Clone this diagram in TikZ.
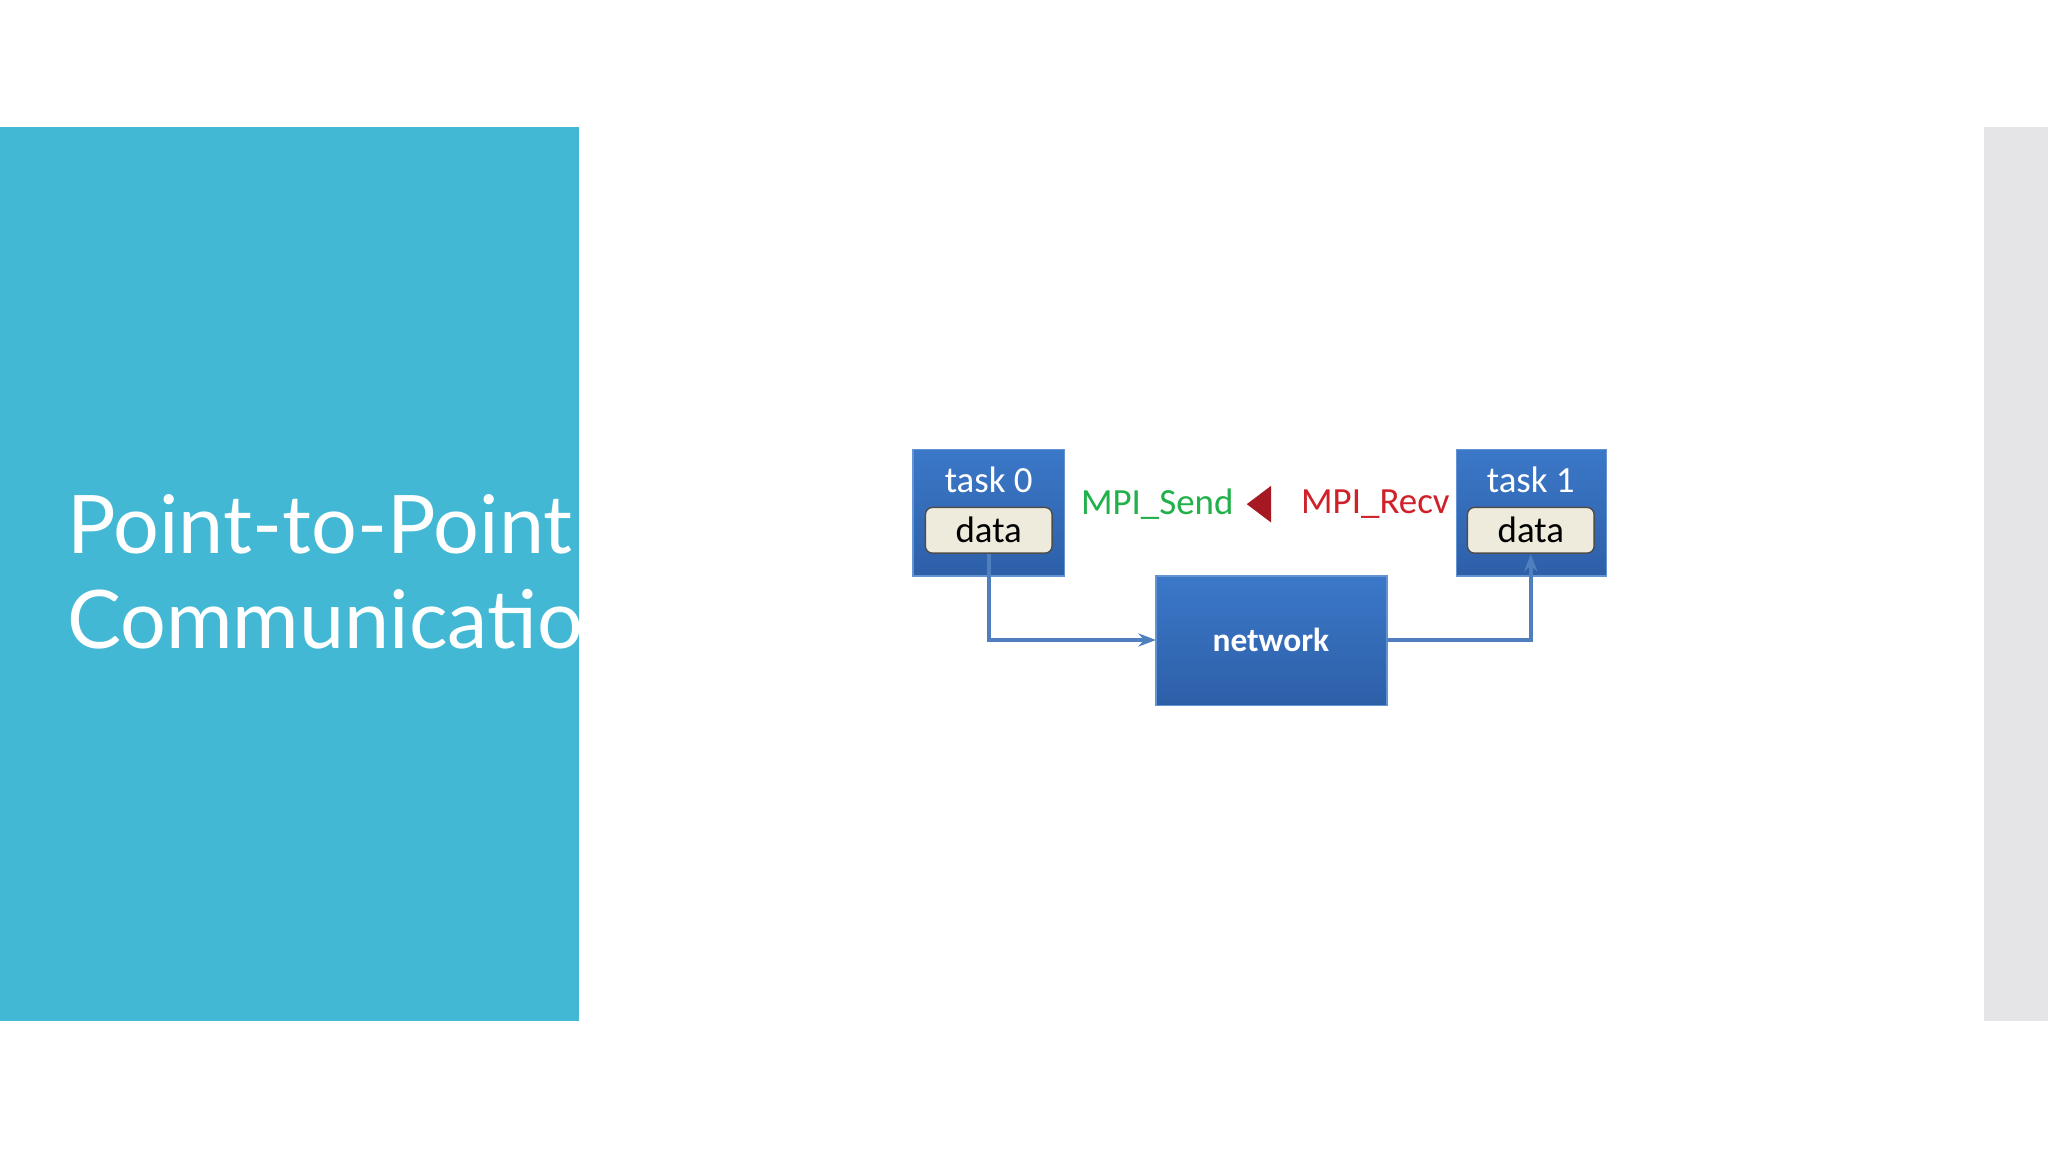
\documentclass[tikz,border=0pt]{standalone}
\usepackage{fontspec}
\setmainfont{Carlito}
\newfontfamily\titlefont{Lato}
\usetikzlibrary{arrows.meta}
\definecolor{slideteal}{HTML}{43B8D5}
\definecolor{sidegrey}{HTML}{E5E5E8}
\definecolor{taskblue}{HTML}{3B78C8}
\definecolor{taskdark}{HTML}{2D5FA8}
\definecolor{datacream}{HTML}{EEEADC}
\definecolor{linkblue}{HTML}{4F7FBF}
\definecolor{sendgreen}{HTML}{22B04B}
\definecolor{recvred}{HTML}{D0202A}
\begin{document}
\begin{tikzpicture}[x=0.013061cm, y=-0.013061cm,
  taskbox/.style={draw=taskblue!80!white, top color=taskblue, bottom color=taskdark, inner sep=0pt},
  databox/.style={draw=black!70, fill=datacream, rounded corners=2pt, inner sep=0pt,
    minimum width=97*0.013061cm, minimum height=35*0.013061cm, font=\fontsize{10.5}{12}\selectfont},
  link/.style={linkblue, line width=1.2pt, -{Stealth[length=5pt]}}]
  \useasboundingbox (0,0) rectangle (1568,882);
  \fill[white] (0,0) rectangle (1568,882);
  \fill[slideteal] (0,97) rectangle (443,782);
  \fill[sidegrey] (1519,97) rectangle (1568,782);
  \node[anchor=west, white, align=left, font=\titlefont\fontsize{23}{27}\selectfont] (title) at (42,438)
    {Point-to-Point\\Communication};
  % tasks
  \shade[taskbox] (699,344) rectangle (815,441);
  \shade[taskbox] (1115,344) rectangle (1230,441);
  \shade[taskbox] (885,441) rectangle (1062,540);
  \node[white, font=\fontsize{10.5}{12}\selectfont] (t0) at (757,367) {task 0};
  \node[white, font=\fontsize{10.5}{12}\selectfont] (t1) at (1172,367) {task 1};
  \node[databox] (d0) at (757,406) {data};
  \node[databox] (d1) at (1172,406) {data};
  \node[white, font=\bfseries\fontsize{9.5}{11}\selectfont] (net) at (973,490) {network};
  \coordinate (netw) at (885,490);
  \coordinate (nete) at (1062,490);
  % calls
  \node[sendgreen, font=\fontsize{10.5}{12}\selectfont] (send) at (886,386) {MPI\_Send};
  \node[recvred, font=\fontsize{10.5}{12}\selectfont] (recv) at (1053,386) {MPI\_Recv};
  \draw[recvred!80!black, line width=2.5pt, -{Triangle[length=7pt,width=10pt]}] (send.east) ++(12,0) coordinate (s) -- ([xshift=-12pt]recv.west);
  % links
  \draw[link] (d0.south) |- (netw);
  \draw[link] (nete) -| (d1.south);
\end{tikzpicture}
\end{document}
